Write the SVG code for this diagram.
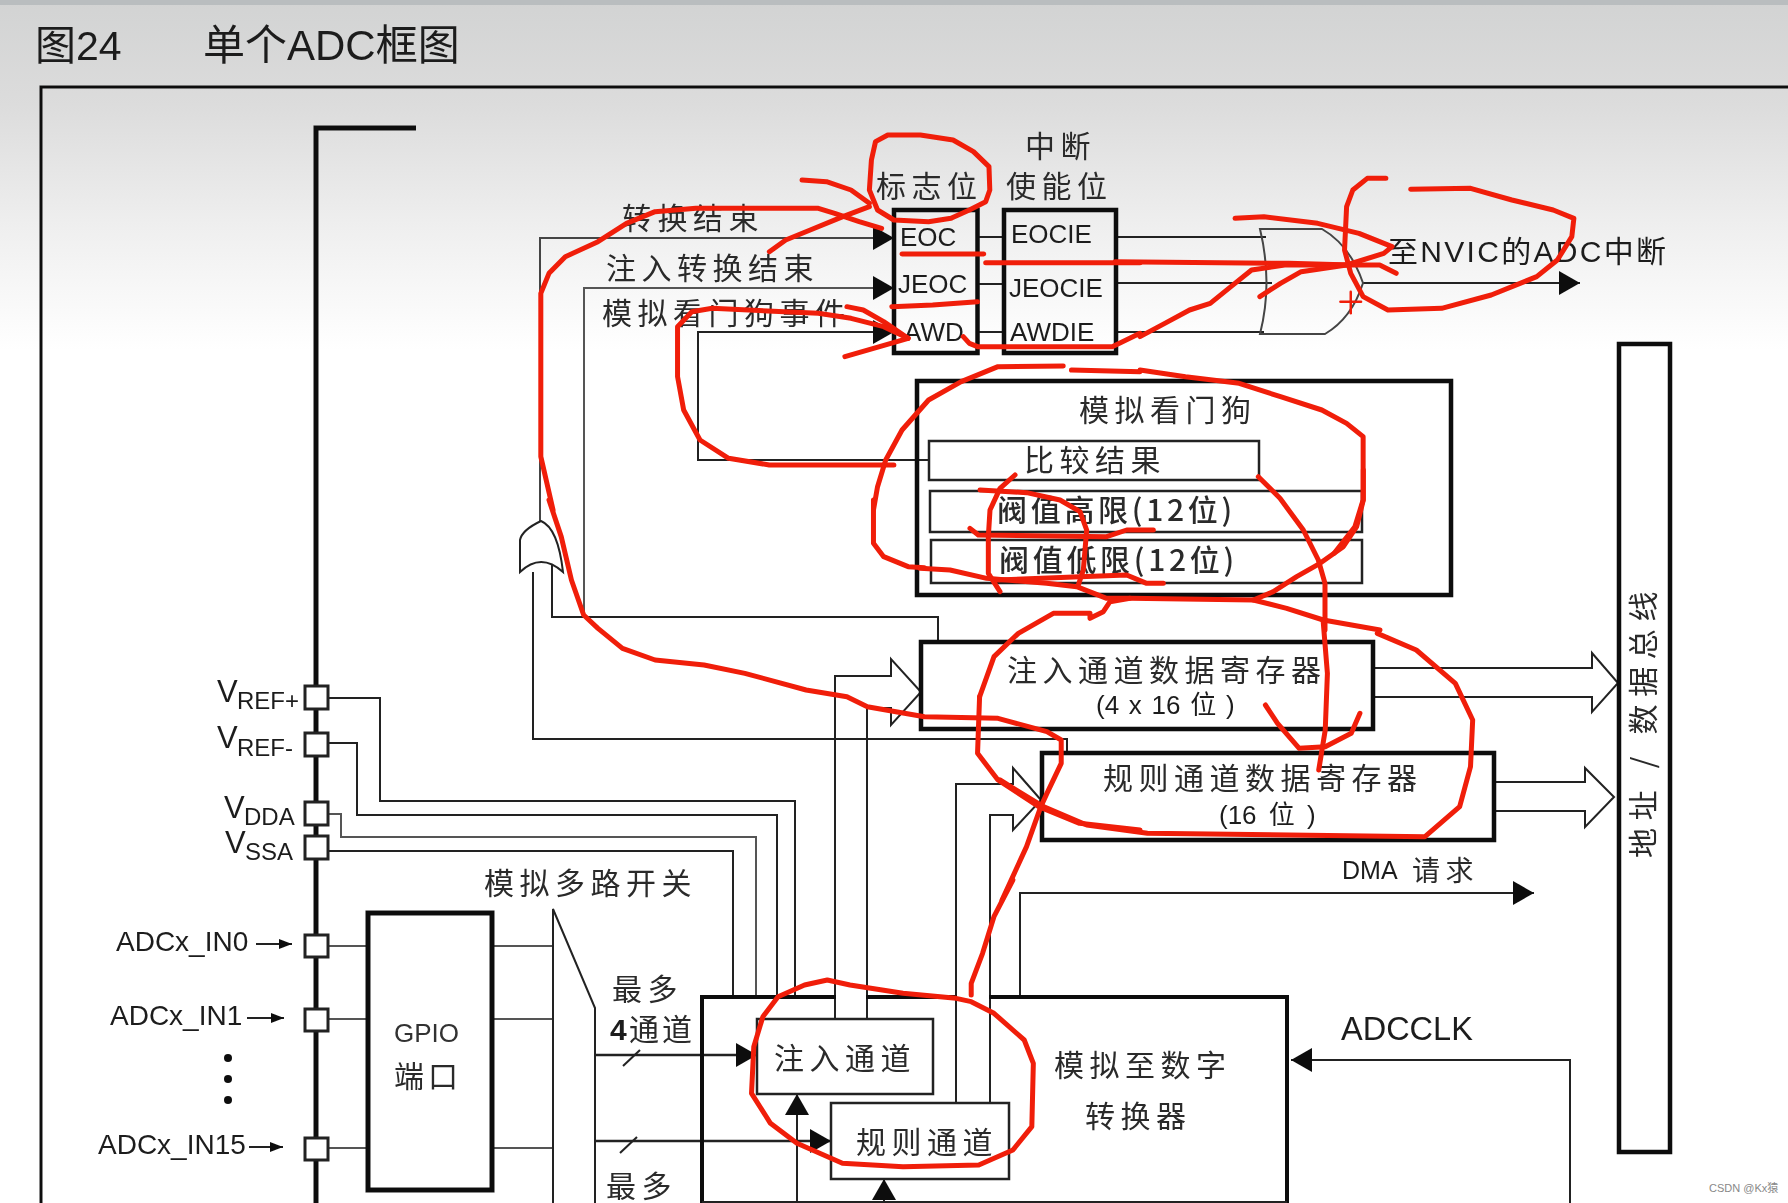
<svg xmlns="http://www.w3.org/2000/svg" width="1788" height="1203" viewBox="0 0 1788 1203">
<defs>
<linearGradient id="bg" x1="0" y1="0" x2="0" y2="1">
<stop offset="0" stop-color="#d2d3d3"/><stop offset="0.3" stop-color="#dcdcdc"/><stop offset="0.65" stop-color="#efefef"/><stop offset="1" stop-color="#ffffff"/>
</linearGradient>
<marker id="tri" markerUnits="userSpaceOnUse" markerWidth="22" markerHeight="26" refX="21" refY="12" orient="auto"><path d="M0,0 L21,12 L0,24 Z" fill="#111"/></marker>
<marker id="tiny" markerUnits="userSpaceOnUse" markerWidth="14" markerHeight="12" refX="13" refY="5" orient="auto"><path d="M0,0 L13,5 L0,10 Z" fill="#111"/></marker>
<filter id="soft" x="0" y="0" width="1" height="1" filterUnits="objectBoundingBox"><feGaussianBlur stdDeviation="0.5"/></filter>
</defs>
<style>
text{font-family:"Liberation Sans","Noto Sans CJK SC",sans-serif;fill:#1c1c1c}
.cn{font-family:"Noto Sans CJK SC",sans-serif;font-size:30px;letter-spacing:5.5px;fill:#2a2a2a}
.en{font-size:26px}
.thick{fill:none;stroke:#111;stroke-width:4.5}
.box{fill:none;stroke:#222;stroke-width:2.5}
.ln{fill:none;stroke:#222;stroke-width:2}
.ln2{fill:none;stroke:#555;stroke-width:2}
.pad{fill:#fff;stroke:#222;stroke-width:3}
.sub{font-size:24px}
.v{font-size:31px}
.r{fill:none;stroke:#f01e0a;stroke-width:5;stroke-linejoin:round;stroke-linecap:round;vector-effect:non-scaling-stroke}
.thin{stroke-width:2.5}
.lim{font-weight:500;letter-spacing:3.7px}
</style>
<rect width="1788" height="1203" fill="#fff"/>
<rect width="1788" height="350" fill="url(#bg)"/>
<rect width="1788" height="5" fill="#b9bdbf"/>
<g filter="url(#soft)">
<g id="title">
<text x="35" y="60" style="font-size:41px">图24</text>
<text x="203" y="60" style="font-size:42px">单个ADC框图</text>
</g>
<g id="frame"><path d="M1788,87 H41 V1203" class="ln" style="stroke:#111;stroke-width:3"/></g>
<g id="connectors">
<path class="ln" d="M977,237 H1004 M977,284 H1004 M977,332 H1004"/>
<path class="ln" d="M1116,237 H1266 M1116,283 H1272 M1116,332 H1264"/>
<path class="ln" d="M1363,283 H1580" marker-end="url(#tri)"/>
<path class="ln" d="M533,572 V739 H1067 V752"/>
<path class="ln" style="stroke:#444" d="M540,521 V238 H894" marker-end="url(#tri)"/>
<path class="ln2" d="M584,617 V288 H894" marker-end="url(#tri)"/>
<path class="ln" d="M930,460 H698 V332 H894" marker-end="url(#tri)"/>
<path class="ln" d="M552,565 V617 H938 V642"/>
<path class="ln" d="M328,698 H380 V801 H795 V997"/>
<path class="ln" d="M328,743 H357 V815 H777 V997"/>
<path class="ln2" d="M328,814 H341 V837 H756 V997"/>
<path class="ln" d="M328,851 H733 V997"/>
<path class="ln2" d="M328,946 H368 M492,946 H553 M328,1019 H368 M492,1019 H553 M328,1148 H368 M492,1148 H553"/>
<path class="ln" d="M553,1203 V909 L595,1008 V1203"/>
<path class="ln" d="M595,1055 H757" marker-end="url(#tri)" style="stroke-width:2.5"/>
<path class="ln" d="M623,1066 L640,1050"/>
<path class="ln" d="M595,1141 H831" marker-end="url(#tri)" style="stroke-width:2.5"/>
<path class="ln" d="M620,1153 L637,1137"/>
<path class="ln" d="M797,1203 V1094" marker-end="url(#tri)"/>
<path class="ln" d="M884,1203 V1179" marker-end="url(#tri)"/>
<path class="ln" d="M1570,1203 V1060 H1291" marker-end="url(#tri)"/>
<path class="ln" d="M1020,997 V893 H1534" marker-end="url(#tri)"/>
<path class="ln" d="M835,1019 V676 H891 V659 L921,692 L891,725 V708 H867 V1019"/>
<path class="ln" d="M956,1103 V784 H1013 V768 L1041,800 L1013,830 V815 H990 V1103"/>
<path class="ln" d="M1373,668 H1592 V653 L1618,683 L1592,712 V697 H1373"/>
<path class="ln" d="M1494,782 H1585 V768 L1614,797 L1585,827 V811 H1494"/>
<path class="ln" d="M256,944 H292" marker-end="url(#tiny)"/>
<path class="ln" d="M247,1018 H284" marker-end="url(#tiny)"/>
<path class="ln" d="M249,1147 H283" marker-end="url(#tiny)"/>
</g>
<g id="bus"><path d="M416,128 H316 V1203" class="thick" style="stroke-width:5"/></g>
<g id="or-gate-nvic"><path class="ln" style="stroke:#444" d="M1260,229 Q1273,283 1260,334 H1325 Q1352,318 1363,283 Q1350,245 1322,229 Z"/></g>
<g id="or-gate-small"><path class="ln" style="fill:#fff" d="M520,572 V540 Q522,530 541,521 Q558,528 563,572 Q541,552 520,572 Z"/></g>
<g id="flags">
<rect x="894" y="210" width="83.500" height="143" class="thick"/>
<text x="900" y="246" class="en">EOC</text>
<text x="898" y="293" class="en">JEOC</text>
<text x="904" y="341" class="en">AWD</text>
<text x="876" y="197" class="cn">标志位</text>
</g>
<g id="enables">
<rect x="1004" y="210" width="112" height="143" class="thick"/>
<text x="1011" y="243" class="en">EOCIE</text>
<text x="1009" y="297" class="en">JEOCIE</text>
<text x="1010" y="341" class="en">AWDIE</text>
<text x="1025" y="157" class="cn">中断</text>
<text x="1006" y="197" class="cn">使能位</text>
</g>
<g id="event-labels">
<text x="622" y="229" class="cn">转换结束</text>
<text x="606" y="279" class="cn">注入转换结束</text>
<text x="602" y="324" class="cn">模拟看门狗事件</text>
</g>
<g id="nvic-label"><text x="1388" y="262" style="font-size:30px;letter-spacing:2.300px">至NVIC的ADC中断</text></g>
<g id="watchdog">
<rect x="917" y="381" width="534" height="214" class="thick"/>
<text x="1079" y="421" class="cn">模拟看门狗</text>
<rect x="929" y="441" width="330" height="39" class="box"/>
<text x="1024" y="471" class="cn">比较结果</text>
<rect x="930" y="491" width="432" height="41" class="box"/>
<text x="997" y="521" class="cn lim">阀值高限(12位)</text>
<rect x="931" y="540" width="431" height="43" class="box"/>
<text x="999" y="571" class="cn lim">阀值低限(12位)</text>
</g>
<g id="injected-register">
<rect x="921" y="642" width="452" height="87" class="thick"/>
<text x="1007" y="681" class="cn">注入通道数据寄存器</text>
<text x="1096" y="714" style="font-size:26px;word-spacing:2.500px">(4 x 16 位 )</text>
</g>
<g id="regular-register">
<rect x="1042" y="753" width="452" height="87" class="thick"/>
<text x="1103" y="789" class="cn">规则通道数据寄存器</text>
<text x="1219" y="824" style="font-size:26px;word-spacing:5px">(16 位 )</text>
</g>
<g id="dma-label"><text x="1342" y="879" style="font-size:25px">DMA</text><text x="1412" y="881" class="cn" style="font-size:28px">请求</text></g>
<g id="data-bus">
<rect x="1619" y="344" width="51" height="808" class="thick" style="fill:#fff"/>
<text transform="translate(1654,858) rotate(-90)" class="cn" textLength="272" lengthAdjust="spacing">地址 / 数据总线</text>
</g>
<g id="pins">
<rect x="305" y="686" width="23" height="23" class="pad"/>
<rect x="305" y="733" width="23" height="23" class="pad"/>
<rect x="305" y="802" width="23" height="23" class="pad"/>
<rect x="305" y="836" width="23" height="23" class="pad"/>
<rect x="305" y="935" width="23" height="22" class="pad"/>
<rect x="305" y="1009" width="23" height="22" class="pad"/>
<rect x="305" y="1138" width="23" height="22" class="pad"/>
<text x="217" y="702" class="v">V</text><text x="237" y="709" class="sub">REF+</text>
<text x="217" y="748" class="v">V</text><text x="237" y="756" class="sub">REF-</text>
<text x="224" y="818" class="v">V</text><text x="244" y="825" class="sub">DDA</text>
<text x="225" y="853" class="v">V</text><text x="245" y="860" class="sub">SSA</text>
<text x="116" y="951" style="font-size:28px">ADCx_IN0</text>
<text x="110" y="1025" style="font-size:28px">ADCx_IN1</text>
<text x="98" y="1154" style="font-size:28px">ADCx_IN15</text>
<circle cx="228" cy="1058" r="4" fill="#111"/><circle cx="228" cy="1079" r="4" fill="#111"/><circle cx="228" cy="1100" r="4" fill="#111"/>
</g>
<g id="gpio">
<rect x="368" y="913" width="124" height="277" class="thick" style="stroke-width:5"/>
<text x="394" y="1042" style="font-size:26px;fill:#333">GPIO</text>
<text x="394" y="1087" class="cn" style="letter-spacing:4px">端口</text>
</g>
<g id="mux">
<text x="484" y="894" class="cn">模拟多路开关</text>
<text x="612" y="1000" class="cn">最多</text>
<text x="610" y="1040" style="font-size:30px;font-weight:bold">4</text><text x="629" y="1040" class="cn" style="letter-spacing:3px">通道</text>
<text x="606" y="1197" class="cn">最多</text>
</g>
<g id="adc">
<path d="M702,1203 V997 H1287 V1203" class="thick" style="stroke-width:4"/>
<path d="M702,1202 H1287" class="ln"/>
<rect x="836" y="993" width="30" height="8" fill="#fff"/>
<rect x="957" y="993" width="32" height="8" fill="#fff"/>
<rect x="757" y="1019" width="176" height="75" class="box"/>
<rect x="831" y="1103" width="178" height="76" class="box"/>
<text x="774" y="1069" class="cn">注入通道</text>
<text x="856" y="1153" class="cn">规则通道</text>
<text x="1054" y="1076" class="cn">模拟至数字</text>
<text x="1085" y="1127" class="cn">转换器</text>
<text x="1341" y="1040" style="font-size:32.500px">ADCCLK</text>
</g>
</g>
<text id="watermark" x="1709" y="1192" style="font-size:11px;fill:#888">CSDN @Kx猿</text>
<g id="annotations">
<g transform="translate(500,110) scale(0.40816,0.33333)">
<polyline class="r" points="1105,325 1150,300 1190,275 1200,240 1198,170 1160,125 1110,90 1030,75 950,75 920,95 910,150 905,240 925,300 965,330 1050,335 1105,325"/>
<polyline class="r" points="740,210 800,215 860,240 905,280"/>
<polyline class="r" points="905,290 840,320 760,360 700,390 660,425"/>
<polyline class="r" points="130,1200 100,1040 100,550 120,490 160,440 240,395 310,340 380,305 480,295 780,295 820,310 880,335 935,355"/>
<polyline class="r" points="985,432 1185,432"/>
<polyline class="r" points="1190,458 1568,458"/>
<polyline class="r" points="960,590 1060,585 1170,575"/>
<polyline class="r" points="850,590 890,600 940,635 1000,685 930,710 845,740"/>
<polyline class="r" points="965,1065 660,1065 560,1045 490,990 450,900 435,800 435,650 470,605 520,595 780,610 860,625 940,650 1000,685"/>
<polyline class="r" points="1135,680 1150,700 1170,710 1500,710 1568,670"/>
<polyline class="r" points="915,1200 925,1130 945,1050 985,960 1050,870 1130,815 1220,770 1380,768"/>
<polyline class="r" points="1400,780 1568,785"/>
</g>
<g transform="translate(1140,150) scale(0.41322,0.33333)">
<polyline class="r" points="-60,335 360,340 510,345"/>
<polyline class="r" points="0,560 60,520 120,480 170,460 220,410 270,360 350,345 500,345"/>
<polyline class="r" points="230,205 300,200 430,220 530,250 610,290 590,310 500,345 390,365 340,400 290,440"/>
<polyline class="r" points="510,345 580,345 620,370"/>
<polyline class="r" points="595,85 550,85 515,120 500,170 495,300 510,370 540,440 600,480 730,475 850,435 960,380 1010,330 1045,260 1050,205 1000,180 900,150 800,115 655,118"/>
<polyline class="r thin" points="485,455 535,455"/>
<polyline class="r thin" points="510,425 510,490"/>
<polyline class="r" points="0,660 110,680 240,700 340,740 440,780 500,820 540,860 540,1050 520,1130 470,1210"/>
</g>
<g transform="translate(500,500) scale(0.40816,0.33333)">
<polyline class="r" points="120,0 150,110 175,240 205,345 240,385 300,445 380,480 500,495 600,520 750,570 850,590 900,620 1040,650 1220,655 1340,695 1375,720 1375,790 1340,880 1325,920 1290,1040 1230,1200"/>
<polyline class="r" points="915,0 915,130 940,170 1000,200 1040,203"/>
<polyline class="r" points="1175,590 1170,760 1220,840 1320,920 1420,970 1568,990"/>
</g>
<g transform="translate(920,470) scale(0.33333,0.33333)">
<polyline class="r" points="285,15 240,55 210,120 205,200 205,310 240,365"/>
<polyline class="r" points="180,60 320,68 420,90 480,125 500,180 490,300 475,345"/>
<polyline class="r" points="150,175 175,195 560,200 620,180 700,180"/>
<polyline class="r" points="0,295 90,300 200,325 380,340 470,350 560,385 630,385 1000,390 1100,415 1210,450 1380,480"/>
<polyline class="r" points="230,330 480,320 620,315 680,340 730,340"/>
<polyline class="r" points="630,385 570,395 550,425 510,445 510,430 400,430 295,490 222,560 179,680"/>
<polyline class="r" points="1015,20 1080,85 1150,180 1195,270 1215,340 1215,480"/>
<polyline class="r" points="1330,0 1330,90 1310,170 1270,230 1200,280 1130,320 1060,365 1000,390"/>
</g>
<g transform="translate(1000,580) scale(0.43365,0.33333)">
<polyline class="r" points="0,600 100,680 200,735 340,760 980,770 1060,680 1085,560 1090,420 1050,310 960,210 870,160"/>
<polyline class="r" points="745,120 755,280 750,450 735,570"/>
<polyline class="r" points="612,375 640,430 690,505 750,500 810,460 830,400"/>
</g>
<g transform="translate(600,880) scale(0.75758,0.33333)">
<polyline class="r" points="545,0 520,110 505,220 490,310 490,345"/>
<polyline class="r" points="470,355 400,340 330,315 300,300 270,315 235,350 215,410 203,500 200,640 225,730 260,790 320,850 400,860 500,855 545,810 570,740 572,550 560,480 520,400 490,365 470,355"/>
</g>
</g>
</svg>
